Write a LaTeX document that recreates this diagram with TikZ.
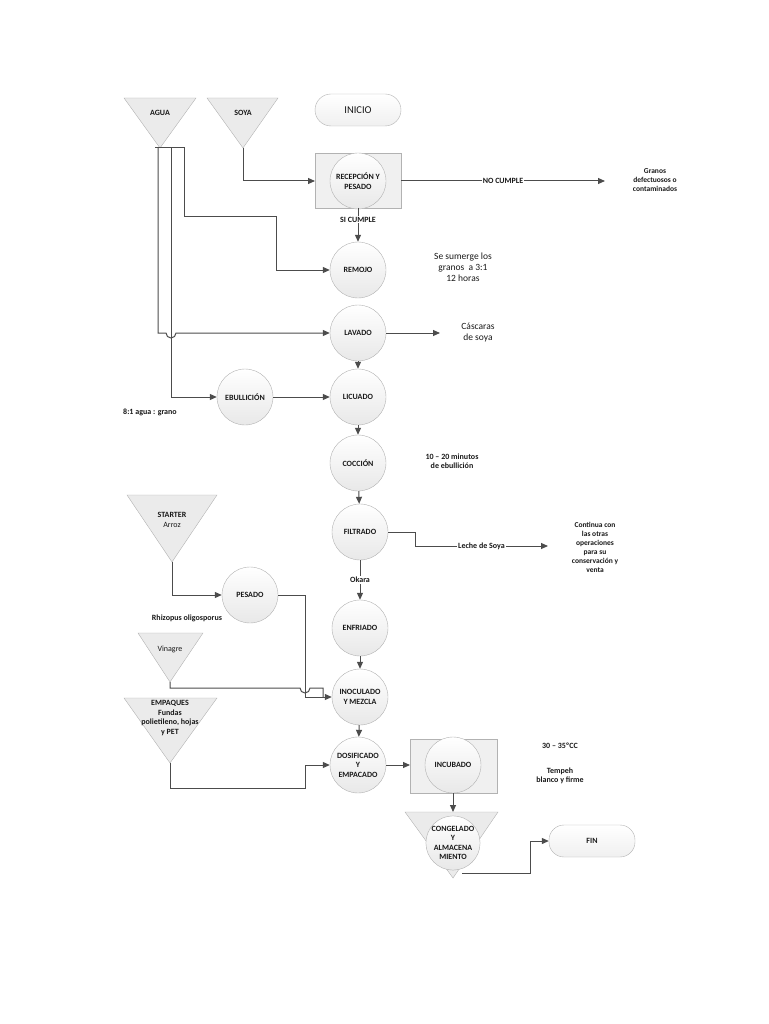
\documentclass[tikz,border=0pt]{standalone}
\usepackage{fontspec}
\setmainfont{Carlito}
\usetikzlibrary{arrows.meta}
\begin{document}
\begin{tikzpicture}[x=1pt,y=-1pt,
 txt/.style={font=\bfseries\fontsize{8}{9.5}\selectfont,align=center,text=black!90},
 circ/.style={circle,draw=gray!60,minimum size=56pt,inner sep=0pt,top color=white,bottom color=gray!18,txt},
 box/.style={draw=gray!60,fill=gray!12},
 tri/.style={draw=gray!60,fill=gray!16},
 ln/.style={draw=black!70,line width=1pt},
 ar/.style={ln,-{Triangle[length=7pt,width=6pt]}},
 term/.style={rounded corners=16pt,draw=gray!60,top color=white,bottom color=gray!12,minimum width=86pt,minimum height=32pt}]
\useasboundingbox (0,0) rectangle (768,1024);
% triangles
\draw[tri] (124,98) -- (196,98) -- (160,148) -- cycle;
\node[txt] (agua) at (160,113) {AGUA};
\draw[tri] (207,98) -- (278,98) -- (243,148) -- cycle;
\node[txt] (soya) at (243,113) {SOYA};
\coordinate (soyab) at (243,148);
\draw[tri] (127,495) -- (217,495) -- (172,562) -- cycle;
\node[txt] (starter) at (172,520) {STARTER\\\mdseries Arroz};
\coordinate (starterb) at (172,562);
\draw[tri] (138,633) -- (203,633) -- (170,682) -- cycle;
\node[txt,font=\fontsize{8}{9.5}\selectfont] (vin) at (170,649) {Vinagre};
\coordinate (vinb) at (170,682);
\draw[tri] (124,698) -- (217,698) -- (170,763) -- cycle;
\node[txt] (emp) at (170,718) {EMPAQUES\\Fundas\\polietileno, hojas\\y PET};
\coordinate (empb) at (170,763);
% terminals
\node[term,txt,font=\fontsize{10.5}{12}\selectfont] (inicio) at (358,110) {INICIO};
\node[term,txt,rounded corners=15pt] (fin) at (592,841) {FIN};
% boxes
\draw[box] (315,153) rectangle (401,208);
\draw[box] (410,739) rectangle (497,793);
\draw[tri] (405,812) -- (498,812) -- (453,878) -- cycle;
% circles
\node[circ] (rec) at (358,181) {RECEPCIÓN Y\\PESADO};
\node[circ] (rem) at (358,270) {REMOJO};
\node[circ] (lav) at (358,333) {LAVADO};
\node[circ] (lic) at (358,397) {LICUADO};
\node[circ] (ebu) at (245,397) {EBULLICIÓN};
\node[circ] (coc) at (358,463) {COCCIÓN};
\node[circ] (fil) at (360,532) {FILTRADO};
\node[circ] (enf) at (360,628) {ENFRIADO};
\node[circ] (ino) at (360,697) {INOCULADO\\Y MEZCLA};
\node[circ] (dos) at (358,765) {DOSIFICADO\\Y\\EMPACADO};
\node[circ] (inc) at (453,765) {INCUBADO};
\node[circ,minimum size=54pt] (con) at (453,843) {CONGELADO\\Y\\ALMACENA\\MIENTO};
\node[circ] (pes) at (250,595) {PESADO};
% texts
\node[txt,font=\fontsize{7.5}{9}\selectfont\bfseries] (gran) at (655,180) {Granos\\defectuosos o\\contaminados};
\node[txt,font=\fontsize{9.5}{11}\selectfont] (sumerge) at (463,267) {Se sumerge los\\granos \ a 3:1\\12 horas};
\node[txt,font=\fontsize{9.5}{11}\selectfont] (casc) at (478,333) {Cáscaras\\de soya};
\node[txt] (ocho) at (150,412) {8:1 agua : grano};
\node[txt] (diez) at (452,461) {10 – 20 minutos\\de ebullición};
\node[txt,font=\fontsize{7.5}{9}\selectfont\bfseries] (cont) at (595,547) {Continua con\\las otras\\operaciones\\para su\\conservación y\\venta};
\node[txt] (rhizo) at (187,618) {Rhizopus oligosporus};
\node[txt] (temp1) at (560,746) {30 – 35ºCC};
\node[txt] (temp2) at (560,776) {Tempeh\\blanco y firme};
% connectors
\coordinate (gr) at (605,181);
\draw[ar] (401,181) -- node[fill=white,txt,inner sep=1pt]{NO CUMPLE} (gr);
\draw[ar] (358,208) -- node[fill=white,txt,inner sep=1pt,pos=0.35]{SI CUMPLE} (rem);
\draw[ar] (soyab) |- (315,181);
\draw[ln] (155,148) -- (185,148);
\draw[ar] (184,148) |- (276,217) |- (rem);
\draw[ar] (158,148) |- (166,333) arc (180:0:5) -- (lav);
\draw[ar] (171,148) |- (ebu);
\draw[ar] (ebu) -- (lic);
\draw[ar] (lav) -- (lic);
\coordinate (cascc) at (440,333);
\draw[ar] (lav) -- (cascc);
\draw[ar] (lic) -- (coc);
\draw[ar] (coc) -- (fil);
\draw[ar] (fil) -- node[fill=white,txt,inner sep=1pt]{Okara} (enf);
\coordinate (leche) at (548,546);
\draw[ar] (fil.east) -| (415,546) -- node[fill=white,txt,inner sep=1pt]{Leche de Soya} (leche);
\draw[ar] (enf) -- (ino);
\draw[ar] (starterb) |- (pes);
\draw[ar] (pes) -| (305,697) -- (ino.west |- 0,697);
\draw[ln] (vinb) |- (300,688) arc (180:0:5) -- (323,688) -- (323,697);
\draw[ar] (empb) |- (305,788) |- (dos);
\draw[ar] (ino) -- (dos);
\draw[ar] (dos) -- (410,765);
\draw[ar] (453,793) -- (453,812);
\draw[ar] (462,873) -| (530,841) -- (fin);
\end{tikzpicture}
\end{document}
